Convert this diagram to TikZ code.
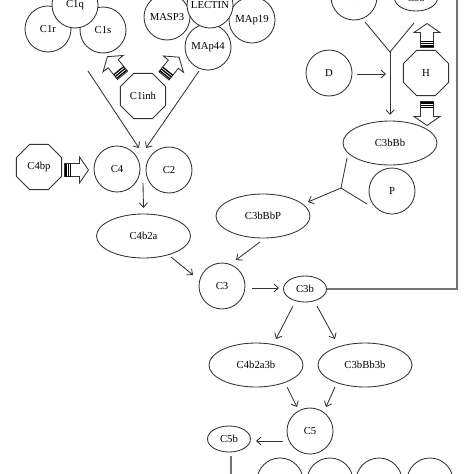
\documentclass[tikz,border=0pt]{standalone}
\usepackage{fontspec}
\setmainfont{Liberation Serif}
\usetikzlibrary{shapes.geometric,arrows.meta,calc}
\begin{document}
\begin{tikzpicture}[x=1pt,y=-1pt,
  font=\fontsize{10.7}{12}\selectfont,
  ln/.style={draw=black!80,line width=0.85pt},
  circ/.style={ln,fill=white,circle,minimum size=46pt,inner sep=0pt},
  ell/.style={ln,fill=white,ellipse,minimum width=94pt,minimum height=44pt,inner sep=0pt},
  sell/.style={ln,fill=white,ellipse,minimum width=43pt,minimum height=26pt,inner sep=0pt},
  oct/.style={ln,fill=white,regular polygon,regular polygon sides=8,minimum size=49pt,inner sep=0pt},
  arr/.style={ln,-{Straight Barb[length=4.5pt,width=8pt]}},
  link/.style={ln},
  loopline/.style={draw=black!55,line width=1.4pt},
  blockarr/.pic={
    \draw[line width=0.85pt,draw=black!80,fill=white]
      (0,-12) -- (13,-3) -- (6.5,-3) -- (6.5,12) -- (-6.5,12) -- (-6.5,-3) -- (-13,-3) -- cycle;
    \foreach \yy in {6,8.3,10.6} \draw[black,line width=1.3pt] (-6.5,\yy) -- (6.5,\yy);
  }
]
\useasboundingbox (0,0) rectangle (474,474);

% classical pathway complex
\node[circ] (c1r) at (48,29) {C1r};
\node[circ] (c1s) at (103,30) {C1s};
\node[circ] (c1q) at (75,5) {C1q};

% lectin complex
\node[circ] (masp3) at (167,17) {MASP3};
\node[circ] (map19) at (252,20) {MAp19};
\node[circ] (map44) at (208,47) {MAp44};
\node[circ] (lectin) at (210,5) {LECTIN};

\node[oct] (c1inh) at (143,96) {C1inh};
\pic[rotate=39] at (115,66) {blockarr};
\pic[rotate=-39] at (171.5,66.5) {blockarr};

\node[circ] (c4) at (117,169) {C4};
\node[circ] (c2) at (169,170) {C2};
\node[oct] (c4bp) at (39,167) {C4bp};
\pic[rotate=-90] at (76.5,170) {blockarr};

\node[ell] (c4b2a) at (143.5,236) {C4b2a};
\node[circ] (c3) at (222,286) {C3};
\node[ell] (c3bbbp) at (263,216) {C3bBbP};

% alternative pathway
\node[circ] (fb) at (354,-3) {B};
\node[sell] (c3btop) at (416,-2) {C3b};
\node[circ] (fd) at (329,73) {D};
\node[oct] (fh) at (426,73) {H};
\pic at (427,35.5) {blockarr};
\pic[rotate=180] at (427,113.5) {blockarr};
\node[ell] (c3bbb) at (390,143) {C3bBb};
\node[circ] (fp) at (392,191) {P};

\node[sell] (c3b) at (305,289) {C3b};
\node[ell] (c4b2a3b) at (256,365) {C4b2a3b};
\node[ell] (c3bbb3b) at (365,365) {C3bBb3b};
\node[circ] (c5) at (310,431) {C5};
\node[sell] (c5b) at (229,439) {C5b};

\node[circ] (m1) at (280,481) {};
\node[circ] (m2) at (330,481) {};
\node[circ] (m3) at (379,481) {};
\node[circ] (m4) at (430,481) {};

% connectors
\coordinate (cL) at (88,71);
\coordinate (cR) at (199,71);
\draw[arr] (cL) -- ($(c4)+(22,-21)$);
\draw[arr] (cR) -- ($(c2)+(-23,-22)$);
\draw[arr] ($(c4)!0.5!(c2)+(0,13.5)$) -- ($(c4b2a)+(0,-28)$);
\draw[arr] ($(c4b2a)+(27.5,21)$) -- ($(c3)+(-29,-11)$);

\coordinate (yp) at (341,188);
\draw[link] ($(c3bbb)+(-43,15)$) -- (yp);
\draw[link] ($(fp)+(-25,13)$) -- (yp);
\draw[arr] (yp) -- ($(c3bbbp)+(45,-14)$);
\draw[arr] ($(c3bbbp)+(-3,26)$) -- ($(c3)+(14,-26)$);

\coordinate (yt) at (390,52);
\draw[link] ($(fb)+(11,25)$) -- (yt);
\draw[link] ($(c3btop)+(-2,25)$) -- (yt);
\draw[arr] (yt) -- ($(c3bbb)+(0,-28)$);
\draw[arr] ($(fd)+(28,1)$) -- ($(fd)+(57,1)$);

\draw[arr] ($(c3)+(30,2)$) -- ($(c3b)+(-26,-1)$);
\coordinate (loopA) at (457,289);
\coordinate (loopB) at (457,-10);
\draw[loopline] (c3b.east) -- (loopA) -- (loopB);

\draw[arr] ($(c3b)+(-12,17)$) -- ($(c4b2a3b)+(20,-26)$);
\draw[arr] ($(c3b)+(12,17)$) -- ($(c3bbb3b)+(-30,-26)$);
\draw[arr] ($(c4b2a3b)+(31,22)$) -- ($(c5)+(-13,-24)$);
\draw[arr] ($(c3bbb3b)+(-30,22)$) -- ($(c5)+(16,-24)$);
\draw[arr] ($(c5)+(-27,10)$) -- ($(c5b)+(27,2)$);
\coordinate (c5bdown) at (231,480);
\draw[loopline,line width=1.1pt] ($(c5b)+(2,17)$) -- (c5bdown);
\end{tikzpicture}
\end{document}
